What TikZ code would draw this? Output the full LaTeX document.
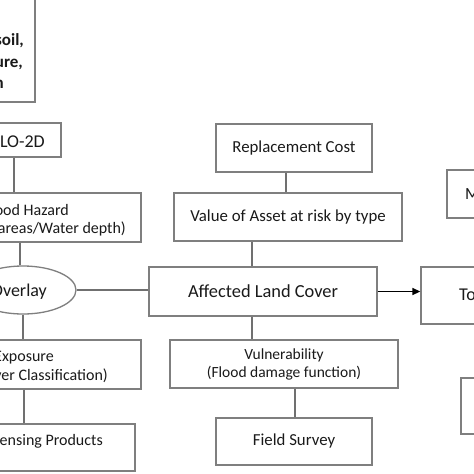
\documentclass[tikz,border=0pt]{standalone}
\usepackage{fontspec}
\setmainfont{Carlito}
\usetikzlibrary{shapes.geometric,arrows.meta}
\definecolor{boxgray}{HTML}{7F7F7F}
\definecolor{linegray}{HTML}{707070}
\definecolor{txt}{HTML}{1A1A1A}
\begin{document}
\begin{tikzpicture}[x=1pt,y=-1pt,
  box/.style={draw=boxgray, line width=1.3pt, rectangle, inner sep=0pt, text=txt, align=center,
              font=\fontsize{16.8}{18}\selectfont},
  oval/.style={draw=boxgray, line width=1.3pt, ellipse, inner sep=0pt, text=txt},
  frag/.style={anchor=base east, inner sep=0pt, text=txt, font=\fontsize{16}{18}\selectfont},
  conn/.style={draw=linegray, line width=1.2pt},
  arr/.style={draw=black, line width=1.5pt, -{Triangle[length=8pt,width=7pt]}}]
\useasboundingbox (0,0) rectangle (474,474);
\clip (0,0) rectangle (474,474);
\fill[white] (0,0) rectangle (474,474);

% left column boxes (partly outside the picture)
\node[box, minimum width=95pt, minimum height=112pt] (tl) at (-12.5,46) {};
\node[box, minimum width=101pt, minimum height=34pt] (flo) at (10.5,140) {};
\node[box, minimum width=231pt, minimum height=49pt] (haz) at (25.5,217.5) {};
\node[oval, minimum width=106pt, minimum height=48pt] (ov) at (23,290) {};
\node[box, minimum width=231pt, minimum height=49pt] (exp) at (25.5,364.5) {};
\node[box, minimum width=225pt, minimum height=47pt] (rs) at (22.5,447.5) {};

% visible text fragments of the left column
\node[frag, font=\bfseries\fontsize{17}{18}\selectfont] (t1) at (24,45) {soil,};
\node[frag, font=\bfseries\fontsize{17}{18}\selectfont] (t2) at (23,67) {ure,};
\node[frag, font=\bfseries\fontsize{17}{18}\selectfont] (t3) at (4,88) {n};
\node[frag, font=\fontsize{18}{20}\selectfont] (t4) at (45,147) {LO-2D};
\node[frag] (t5) at (69,215) {ood Hazard};
\node[frag] (t6) at (126,233) {areas/Water depth)};
\node[frag, font=\fontsize{18}{20}\selectfont] (t7) at (47,296) {Overlay};
\node[frag] (t8) at (54,361) {Exposure};
\node[frag] (t9) at (108,380) {ver Classification)};
\node[frag, font=\fontsize{16}{18}\selectfont] (t10) at (103,445) {Sensing Products};

% centre column
\node[box, minimum width=156pt, minimum height=48pt] (rep) at (294,148) {Replacement Cost};
\node[box, minimum width=228pt, minimum height=48pt] (val) at (288,217) {Value of Asset at risk by type};
\node[box, minimum width=228pt, minimum height=49pt, font=\fontsize{18.4}{20}\selectfont] (aff) at (263,291.5) {Affected Land Cover};
\node[box, minimum width=228pt, minimum height=48pt, font=\fontsize{15.5}{18}\selectfont] (vul) at (284,364) {Vulnerability\\(Flood damage function)};
\node[box, minimum width=156pt, minimum height=47pt] (fs) at (294,441.5) {Field Survey};

% right column (partly outside)
\node[box, minimum width=113pt, minimum height=48pt] (mb) at (503.5,194) {};
\node[box, minimum width=139pt, minimum height=57pt] (tot) at (490.5,295.5) {};
\node[box, minimum width=99pt, minimum height=56pt] (br) at (510.5,406) {};
\node[frag, anchor=base west, font=\fontsize{17}{18}\selectfont] (t11) at (465,199) {M};
\node[frag, anchor=base west, font=\fontsize{18}{20}\selectfont] (t12) at (459,300) {To};

% connectors
\draw[conn] (flo.south -| 14,0) -- (haz.north -| 14,0);
\draw[conn] (haz.south -| 20,0) -- (ov.north -| 20,0);
\draw[conn] (ov.south -| 23,0) -- (exp.north -| 23,0);
\draw[conn] (exp.south -| 24,0) -- (rs.north -| 24,0);
\draw[conn] (ov.east) -- (ov.east -| aff.west);
\draw[conn] (rep.south -| 286,0) -- (val.north -| 286,0);
\draw[conn] (val.south -| 252,0) -- (aff.north -| 252,0);
\draw[conn] (aff.south -| 252,0) -- (vul.north -| 252,0);
\draw[conn] (vul.south -| 295,0) -- (fs.north -| 295,0);
\draw[arr] (aff.east) -- (aff.east -| tot.west);
\end{tikzpicture}
\end{document}
